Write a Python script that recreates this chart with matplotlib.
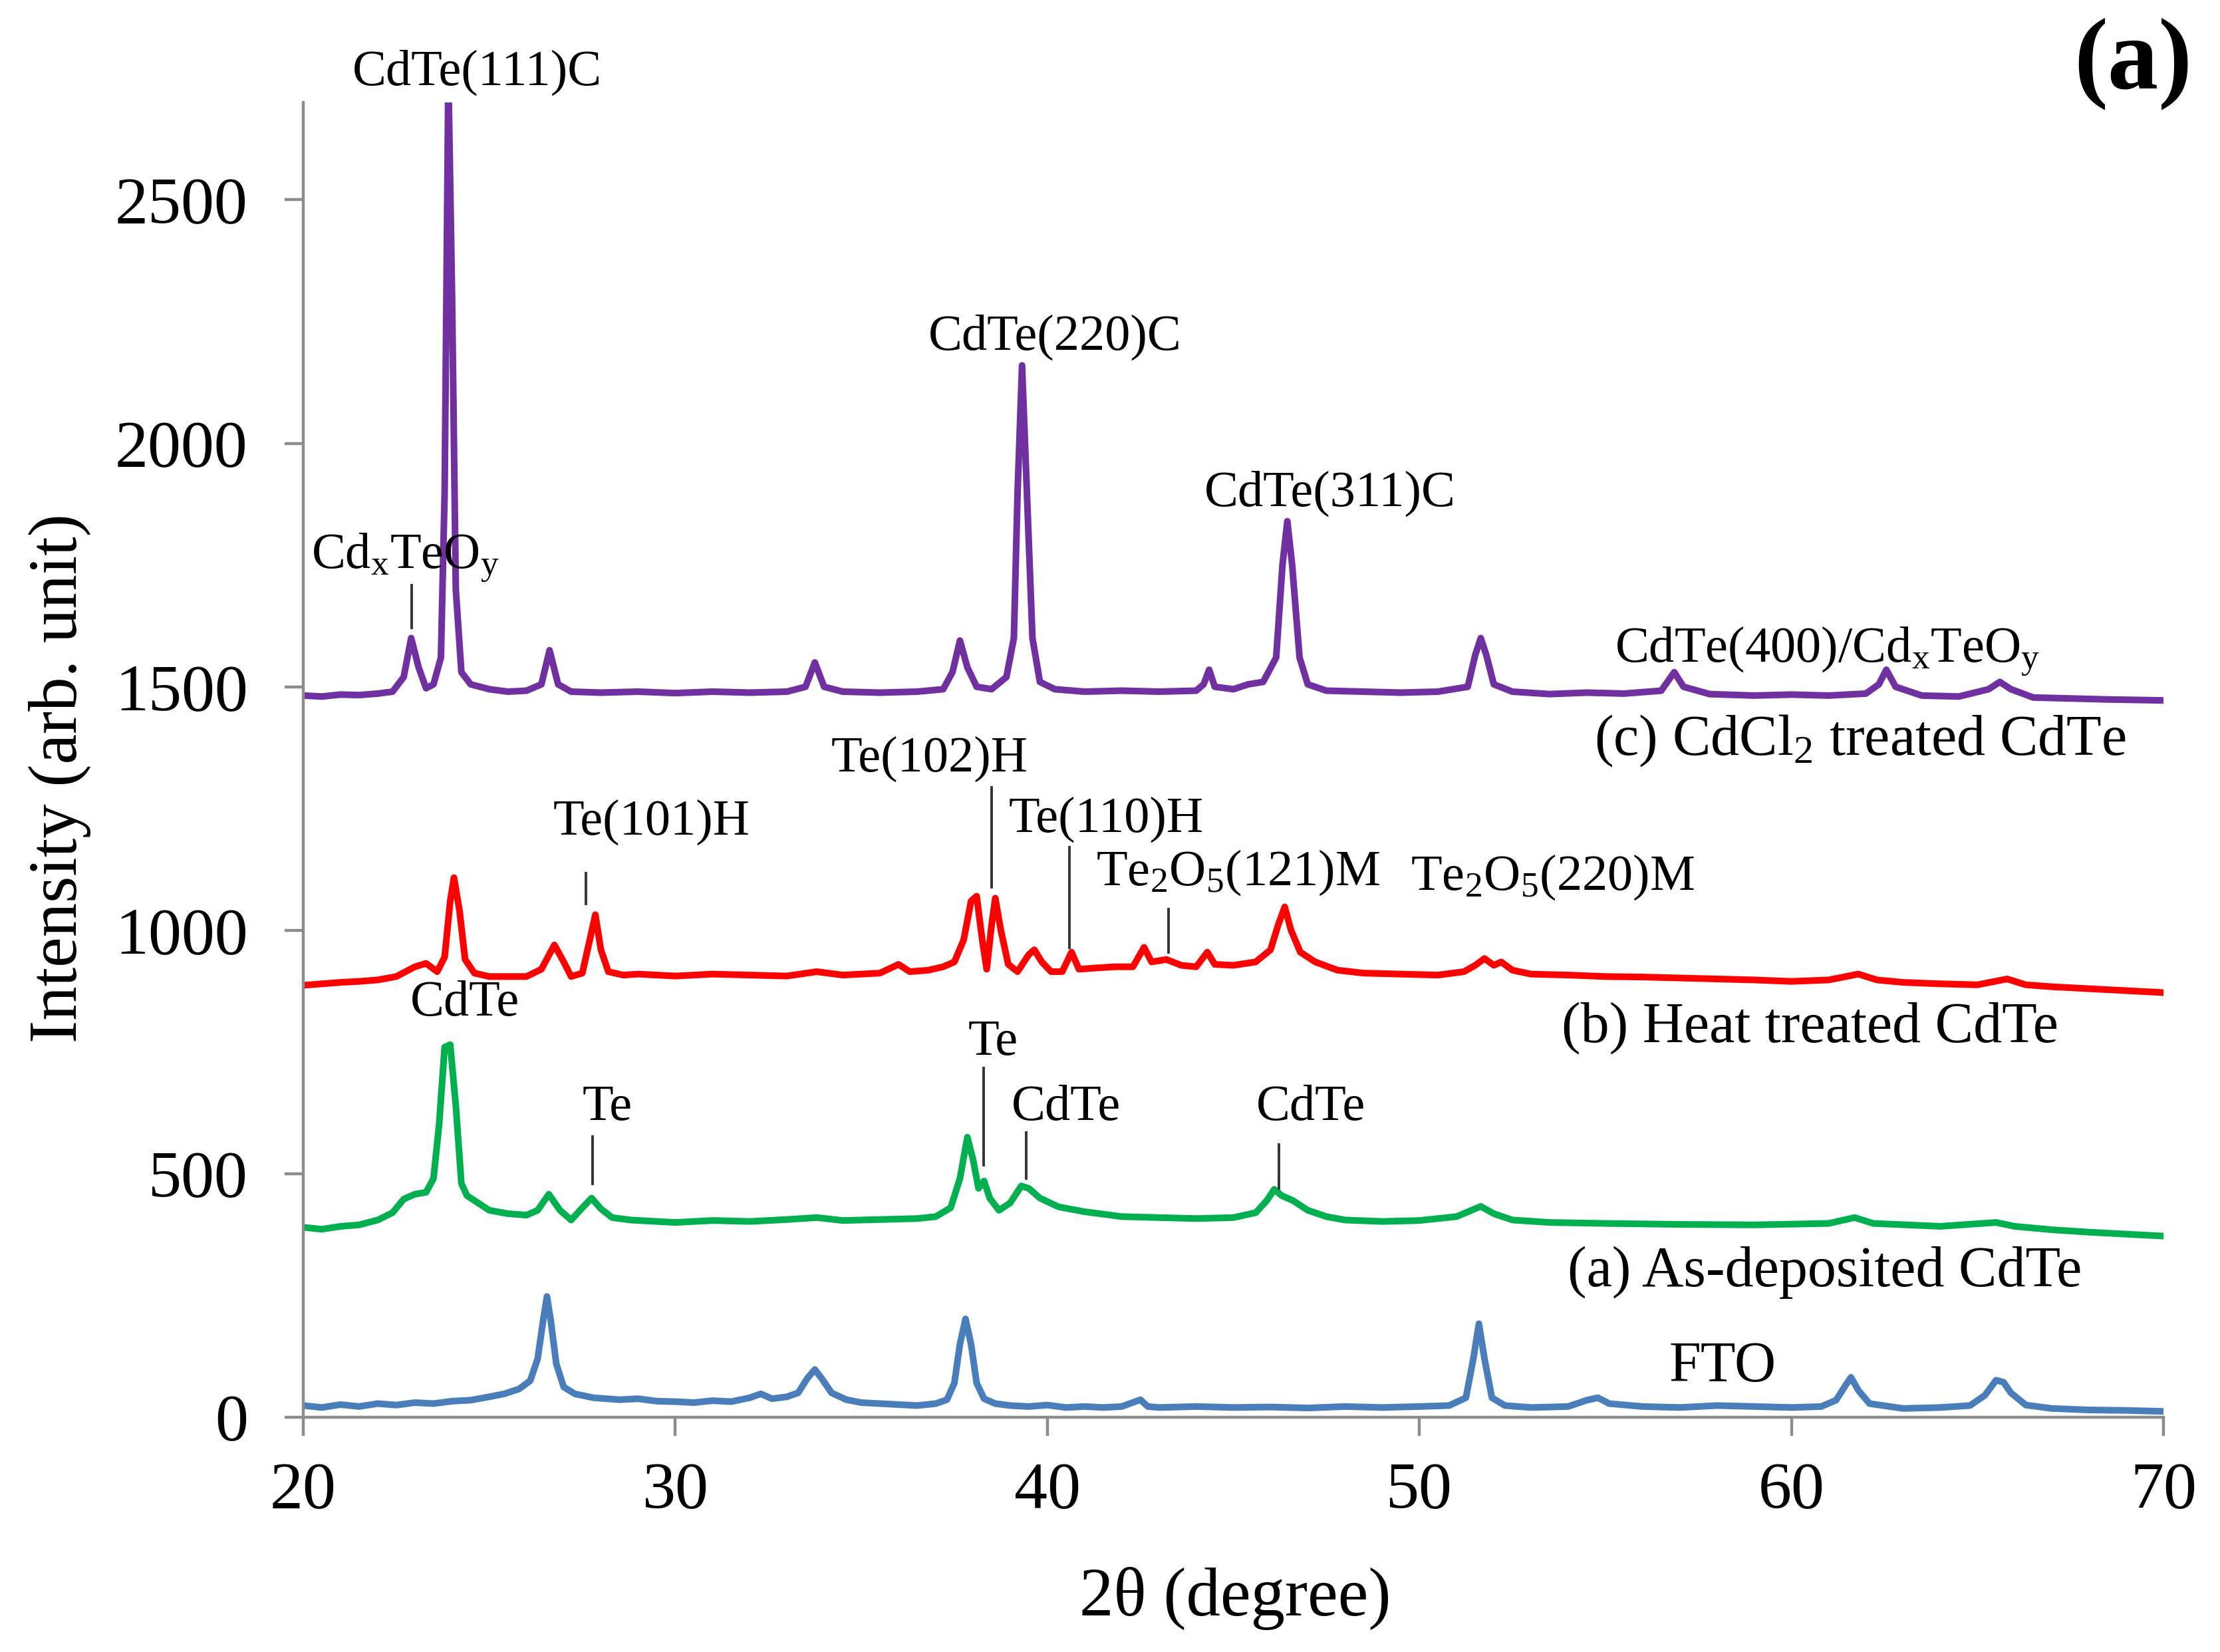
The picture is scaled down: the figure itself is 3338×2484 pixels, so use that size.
import matplotlib
matplotlib.use("Agg")
import matplotlib.pyplot as plt

plt.rcParams['font.family'] = ['Liberation Serif', 'DejaVu Serif']
plt.rcParams['mathtext.fontset'] = 'custom'
plt.rcParams['mathtext.rm'] = 'Liberation Serif'
plt.rcParams['mathtext.it'] = 'Liberation Serif:italic'

# ---------------- data ----------------
fto_x = [20.0, 20.5, 21.0, 21.5, 22.0, 22.5, 23.0, 23.5, 24.0, 24.5, 25.0, 25.4, 25.8, 26.1, 26.3, 26.45,
         26.55, 26.65, 26.8, 27.0, 27.3, 27.8, 28.5, 29.0, 29.5, 30.0, 30.5, 31.0, 31.5, 32.0, 32.3, 32.6,
         33.0, 33.3, 33.55, 33.75, 33.95, 34.2, 34.6, 35.0, 35.5, 36.0, 36.5, 37.0, 37.3, 37.5, 37.65, 37.8,
         37.95, 38.1, 38.3, 38.6, 39.0, 39.5, 40.0, 40.5, 41.0, 41.5, 42.0, 42.5, 42.7, 43.0, 44.0, 45.0,
         46.0, 47.0, 48.0, 49.0, 50.0, 50.8, 51.25, 51.45, 51.6, 51.75, 51.95, 52.3, 53.0, 54.0, 54.5, 54.8,
         55.1, 56.0, 57.0, 58.0, 59.0, 60.0, 60.8, 61.2, 61.45, 61.6, 61.8, 62.1, 63.0, 64.0, 64.8, 65.2,
         65.5, 65.7, 65.9, 66.3, 67.0, 68.0, 69.0, 70.0]
fto_y = [24, 20, 26, 22, 28, 25, 30, 28, 33, 35, 42, 48, 58, 75, 120, 200,
         248, 200, 110, 62, 48, 40, 36, 38, 33, 32, 30, 34, 32, 40, 48, 38,
         42, 50, 80, 98, 78, 50, 36, 30, 28, 26, 24, 28, 36, 70, 150, 202,
         150, 70, 38, 28, 24, 22, 25, 20, 22, 20, 22, 36, 22, 20, 22, 20,
         21, 19, 22, 20, 22, 24, 40, 120, 192, 120, 40, 24, 20, 22, 35, 40,
         28, 22, 20, 24, 22, 20, 22, 35, 65, 82, 55, 28, 18, 20, 24, 45,
         76, 72, 50, 25, 18, 15, 14, 12]

asdep_x = [20.0, 20.5, 21.0, 21.5, 22.0, 22.4, 22.7, 23.0, 23.3, 23.5, 23.65, 23.8, 23.95, 24.1, 24.25,
           24.4, 24.7, 25.0, 25.5, 26.0, 26.3, 26.6, 26.9, 27.2, 27.5, 27.75, 28.0, 28.3, 28.8, 29.5, 30.0,
           31.0, 32.0, 33.0, 33.8, 34.5, 35.5, 36.5, 37.0, 37.4, 37.65, 37.85, 38.0, 38.15, 38.3, 38.45,
           38.7, 39.0, 39.3, 39.5, 39.8, 40.3, 41.0, 42.0, 43.0, 44.0, 45.0, 45.6, 45.9, 46.1, 46.3, 46.6,
           47.0, 47.5, 48.0, 49.0, 50.0, 51.0, 51.4, 51.65, 52.0, 52.5, 53.5, 55.0, 57.0, 59.0, 61.0, 61.7,
           62.2, 64.0, 65.5, 66.0, 67.0, 68.0, 69.0, 70.0]
asdep_y = [390, 386, 392, 395, 405, 420, 448, 458, 462, 490, 600, 760, 765, 640, 480,
           455, 440, 425, 418, 415, 425, 458, 425, 405, 430, 450, 428, 410, 405, 402, 400,
           404, 402, 406, 410, 404, 406, 408, 412, 430, 490, 575, 530, 470, 485, 450,
           425, 440, 475, 470, 450, 432, 422, 412, 410, 408, 410, 420, 445, 468, 455, 445,
           425, 412, 405, 402, 404, 412, 425, 433, 418, 405, 400, 398, 396, 395, 398, 410,
           398, 392, 400, 392, 385, 380, 376, 372]

heat_x = [20.0, 20.5, 21.0, 21.5, 22.0, 22.5, 23.0, 23.3, 23.6, 23.8, 23.95, 24.05, 24.2, 24.35, 24.6,
          25.0, 25.5, 26.0, 26.4, 26.75, 27.0, 27.2, 27.5, 27.7, 27.85, 28.0, 28.2, 28.6, 29.0, 30.0,
          31.0, 32.0, 33.0, 33.8, 34.5, 35.0, 35.5, 36.0, 36.3, 36.8, 37.2, 37.5, 37.75, 37.95, 38.1,
          38.25, 38.37, 38.5, 38.6, 38.75, 38.95, 39.2, 39.5, 39.65, 39.85, 40.1, 40.4, 40.65, 40.85,
          41.2, 41.8, 42.3, 42.6, 42.8, 43.2, 43.6, 44.0, 44.3, 44.5, 45.0, 45.6, 46.0, 46.2, 46.38,
          46.55, 46.8, 47.2, 47.8, 48.5, 49.5, 50.5, 51.2, 51.5, 51.75, 52.0, 52.2, 52.5, 53.0, 54.0,
          55.0, 56.0, 57.0, 58.0, 59.0, 60.0, 61.0, 61.8, 62.3, 63.0, 64.0, 65.0, 65.8, 66.3, 67.0,
          68.0, 69.0, 70.0]
heat_y = [887, 890, 893, 895, 898, 905, 925, 932, 915, 945, 1060, 1108, 1040, 940, 912,
          905, 905, 905, 920, 970, 935, 905, 912, 980, 1032, 960, 915, 908, 910, 906,
          910, 908, 906, 915, 908, 910, 912, 930, 915, 918, 925, 935, 980, 1060, 1070,
          980, 920, 1010, 1066, 1000, 930, 915, 950, 960, 935, 915, 915, 955, 920,
          922, 925, 925, 965, 935, 940, 928, 925, 955, 930, 928, 935, 960, 1010, 1048,
          1000, 955, 935, 918, 912, 910, 908, 915, 928, 942, 928, 935, 918, 910, 908,
          905, 904, 902, 900, 898, 895, 898, 910, 898, 893, 890, 888, 900, 888, 884,
          880, 876, 872]

cdcl2_x = [20.0, 20.5, 21.0, 21.5, 22.0, 22.4, 22.7, 22.9, 23.1, 23.3, 23.5, 23.7, 23.8, 23.9, 24.0,
           24.1, 24.25, 24.5, 25.0, 25.5, 26.0, 26.4, 26.62, 26.85, 27.2, 28.0, 29.0, 30.0, 31.0, 32.0,
           33.0, 33.5, 33.75, 34.0, 34.5, 35.5, 36.5, 37.2, 37.45, 37.65, 37.85, 38.1, 38.5, 38.9, 39.1,
           39.2, 39.32, 39.45, 39.6, 39.8, 40.2, 41.0, 42.0, 43.0, 44.0, 44.2, 44.35, 44.5, 45.0, 45.4,
           45.8, 46.15, 46.32, 46.45, 46.58, 46.78, 47.0, 47.5, 48.5, 49.5, 50.5, 51.3, 51.5, 51.65, 51.8,
           52.0, 52.5, 53.5, 54.5, 55.5, 56.5, 56.85, 57.1, 57.8, 59.0, 60.0, 61.0, 62.0, 62.35, 62.55,
           62.8, 63.5, 64.5, 65.3, 65.6, 65.9, 66.5, 67.5, 68.5, 70.0]
cdcl2_y = [1482, 1480, 1484, 1483, 1486, 1490, 1520, 1600, 1540, 1497, 1505, 1560, 1900, 2760, 2300,
           1700, 1530, 1505, 1495, 1490, 1492, 1505, 1575, 1505, 1490, 1488, 1490, 1487, 1490, 1488,
           1490, 1500, 1550, 1500, 1490, 1488, 1490, 1495, 1530, 1595, 1540, 1500, 1495, 1520, 1600,
           1900, 2160, 1900, 1600, 1510, 1495, 1490, 1492, 1490, 1492, 1505, 1535, 1500, 1495, 1505,
           1510, 1560, 1750, 1840, 1750, 1560, 1505, 1492, 1490, 1488, 1490, 1500, 1565, 1600, 1565,
           1505, 1490, 1485, 1488, 1486, 1492, 1530, 1500, 1485, 1482, 1484, 1482, 1486, 1505, 1535,
           1500, 1482, 1480, 1495, 1510, 1495, 1478, 1476, 1474, 1472]

x_ticks = [20, 30, 40, 50, 60, 70]
y_ticks = [0, 500, 1000, 1500, 2000, 2500]

# peak labels: (text, x, y)
peak_labels = [
    ("CdTe(111)C", 24.67, 2761),
    ("Cd$\\mathregular{_x}$TeO$\\mathregular{_y}$", 22.75, 1765),
    ("CdTe(220)C", 40.2, 2217),
    ("CdTe(311)C", 47.6, 1897),
    ("CdTe(400)/Cd$\\mathregular{_x}$TeO$\\mathregular{_y}$", 60.97, 1573),
    ("Te(101)H", 29.36, 1222),
    ("Te(102)H", 36.83, 1352),
    ("Te(110)H", 41.58, 1227),
    ("Te$\\mathregular{_2}$O$\\mathregular{_5}$(121)M", 45.13, 1118),
    ("Te$\\mathregular{_2}$O$\\mathregular{_5}$(220)M", 53.58, 1109),
    ("CdTe", 24.35, 850),
    ("Te", 28.17, 636),
    ("Te", 38.55, 769),
    ("CdTe", 40.5, 636),
    ("CdTe", 47.09, 636),
]
# marker lines: (x, y_bottom, y_top)
marker_lines = [
    (22.92, 1621, 1708),
    (27.6, 1054, 1117),
    (38.5, 1088, 1293),
    (40.6, 964, 1171),
    (43.26, 954, 1044),
    (27.77, 479, 576),
    (38.28, 518, 717),
    (39.44, 490, 584),
    (46.23, 470, 560),
]
series_labels = [
    ("(c) CdCl$\\mathregular{_2}$ treated CdTe", 61.85, 1388),
    ("(b) Heat treated CdTe", 60.5, 800),
    ("(a) As-deposited CdTe", 60.9, 297),
    ("FTO", 58.15, 102),
]

# ---------------- figure ----------------
fig = plt.figure(figsize=(16.69, 12.42), dpi=200)
ax = fig.add_axes([456 / 3338, 1 - 2131 / 2484, (3253 - 456) / 3338, (2131 - 154) / 2484])

lw = 3.6
ax.plot(fto_x, fto_y, color='#4A7EBB', lw=lw, solid_joinstyle='round')
ax.plot(asdep_x, asdep_y, color='#00B050', lw=lw, solid_joinstyle='round')
ax.plot(heat_x, heat_y, color='#FF0000', lw=lw, solid_joinstyle='round')
ax.plot(cdcl2_x, cdcl2_y, color='#7030A0', lw=lw, solid_joinstyle='round')

ax.set_xlim(20, 70)
ax.set_ylim(0, 2700)
ax.set_xticks(x_ticks)
ax.set_yticks(y_ticks)

for s in ['top', 'right']:
    ax.spines[s].set_visible(False)
for s in ['left', 'bottom']:
    ax.spines[s].set_color('#8C8C8C')
    ax.spines[s].set_linewidth(1.6)
ax.tick_params(axis='both', direction='out', color='#8C8C8C', width=1.6, length=10,
               labelsize=36, labelcolor='black')
ax.tick_params(axis='y', pad=20)
ax.tick_params(axis='x', pad=14)

for (x, y0, y1) in marker_lines:
    ax.plot([x, x], [y0, y1], color='#333333', lw=1.4)

for (t, x, y) in peak_labels:
    ax.text(x, y, t, fontsize=27.5, ha='center', va='center', clip_on=False)

for (t, x, y) in series_labels:
    ax.text(x, y, t, fontsize=31, ha='center', va='center', clip_on=False)

fig.text(90 / 3338, 1 - 1170 / 2484, "Intensity (arb. unit)", rotation=90, fontsize=37,
         ha='center', va='center')
fig.text(1857 / 3338, 1 - 2403 / 2484, "2θ (degree)", fontsize=37, ha='center', va='center')
fig.text(3207 / 3338, 1 - 96 / 2484, "(a)", fontsize=55, fontweight='bold', ha='center', va='center')

fig.savefig("out.png", dpi=200)
